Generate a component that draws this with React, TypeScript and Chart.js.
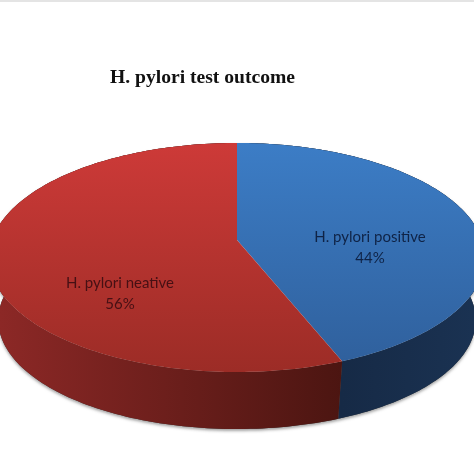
import { type FC, useEffect, useRef } from "react";
import { Chart, registerables, type Plugin } from "chart.js";

Chart.register(...registerables);

const categories = ["H. pylori positive", "H. pylori neative"];
const shares = [44, 56];
const titleText = "H. pylori test outcome";

// Look of the perspective pie
const SQUASH = 0.462; // ellipse height / width
const TILT = 0.153; // how far perspective lifts the pie's centre
const DEPTH = 62.5; // drop of the lower rim's centre
const LOWER_X = 0.963; // lower rim is a bit smaller than the top one
const LOWER_Y = 0.952;
const faceColors = [
  ["#3c7dc6", "#2f5f9b"],
  ["#cd3a38", "#9c2c26"],
];
const sideColors = [
  ["#162a46", "#1a3252"],
  ["#8c2826", "#4b1511"],
];
const labelColors = ["#0f2346", "#461014"];
const labelSpots = [
  { x: 370, y: 237 },
  { x: 120, y: 283 },
];

// angle on the chart's arc -> point on the tilted ellipse
const project = (angle: number, cx: number, cy: number, rx: number) => {
  const t = angle + Math.PI / 2;
  const u = Math.sin(t);
  const v = -Math.cos(t);
  const k = 1 / (1 - TILT * v);
  return {
    x: cx + rx * u * Math.sqrt(1 - TILT * TILT) * k,
    y: cy + rx * SQUASH * (v - TILT) * k,
  };
};

const rimPoints = (arc: any) => {
  const pts = [];
  const steps = 160;
  for (let i = 0; i <= steps; i++) {
    const a = arc.startAngle + ((arc.endAngle - arc.startAngle) * i) / steps;
    pts.push(project(a, arc.x, arc.y, arc.outerRadius));
  }
  return pts;
};

const pie3d: Plugin<"pie"> = {
  id: "pie3d",
  beforeDatasetDraw: () => false,
  afterDatasetsDraw(chart) {
    const ctx = chart.ctx;
    const arcs = chart.getDatasetMeta(0).data as any[];
    const top = arcs[0].y - arcs[0].outerRadius * SQUASH;
    const bottom = arcs[0].y + arcs[0].outerRadius * SQUASH;

    ctx.save();
    ctx.fillStyle = "#e4e4e4";
    ctx.fillRect(0, 0, chart.width, 2);

    const sidePath = (arc: any) => {
      const pts = rimPoints(arc);
      ctx.beginPath();
      pts.forEach((p, j) => (j ? ctx.lineTo(p.x, p.y) : ctx.moveTo(p.x, p.y)));
      [...pts].reverse().forEach((p) => {
        ctx.lineTo(
          arc.x + (p.x - arc.x) * LOWER_X,
          arc.y + DEPTH + (p.y - arc.y) * LOWER_Y
        );
      });
      ctx.closePath();
    };

    // soft shadow under the wall
    ctx.shadowColor = "rgba(90,90,90,0.55)";
    ctx.shadowBlur = 3;
    ctx.shadowOffsetY = 2;
    ctx.fillStyle = "#333333";
    arcs.forEach((arc) => {
      sidePath(arc);
      ctx.fill();
    });
    ctx.shadowColor = "transparent";

    // side wall, the top face goes over it
    arcs.forEach((arc, i) => {
      const g =
        i === 0
          ? ctx.createLinearGradient(342, 0, 474, 0)
          : ctx.createLinearGradient(0, 0, 345, 0);
      g.addColorStop(0, sideColors[i][0]);
      g.addColorStop(1, sideColors[i][1]);
      ctx.fillStyle = g;
      sidePath(arc);
      ctx.fill();
    });

    arcs.forEach((arc, i) => {
      const pts = rimPoints(arc);
      const g = ctx.createLinearGradient(0, top, 0, bottom);
      g.addColorStop(0, faceColors[i][0]);
      g.addColorStop(1, faceColors[i][1]);
      ctx.fillStyle = g;
      ctx.beginPath();
      ctx.moveTo(arc.x, arc.y - arc.outerRadius * SQUASH * TILT);
      pts.forEach((p) => ctx.lineTo(p.x, p.y));
      ctx.closePath();
      ctx.fill();
    });

    // labels
    ctx.textAlign = "center";
    ctx.textBaseline = "alphabetic";
    ctx.font = "15px Lato";
    categories.forEach((name, i) => {
      ctx.fillStyle = labelColors[i];
      ctx.fillText(name, labelSpots[i].x, labelSpots[i].y + 5);
      ctx.fillText(`${shares[i]}%`, labelSpots[i].x, labelSpots[i].y + 26);
    });

    ctx.fillStyle = "#111111";
    ctx.font = "bold 19.6px 'Liberation Serif'";
    ctx.fillText(titleText, 202.5, 83);
    ctx.restore();
  },
};

const App: FC = () => {
  const canvasRef = useRef<HTMLCanvasElement>(null);

  useEffect(() => {
    if (!canvasRef.current) return;

    const chart = new Chart(canvasRef.current, {
      type: "pie",
      data: {
        labels: categories,
        datasets: [{ data: shares, borderWidth: 0 }],
      },
      options: {
        responsive: false,
        animation: false,
        radius: "114.5%",
        layout: { padding: { top: 41 } },
        plugins: {
          legend: { display: false },
          tooltip: { enabled: false },
        },
      },
      plugins: [pie3d],
    });

    return () => chart.destroy();
  }, []);

  return (
    <div style={{ position: "absolute", left: 0, top: 0 }}>
      <canvas ref={canvasRef} width={474} height={474} style={{ display: "block" }}></canvas>
    </div>
  );
};

export default App;
